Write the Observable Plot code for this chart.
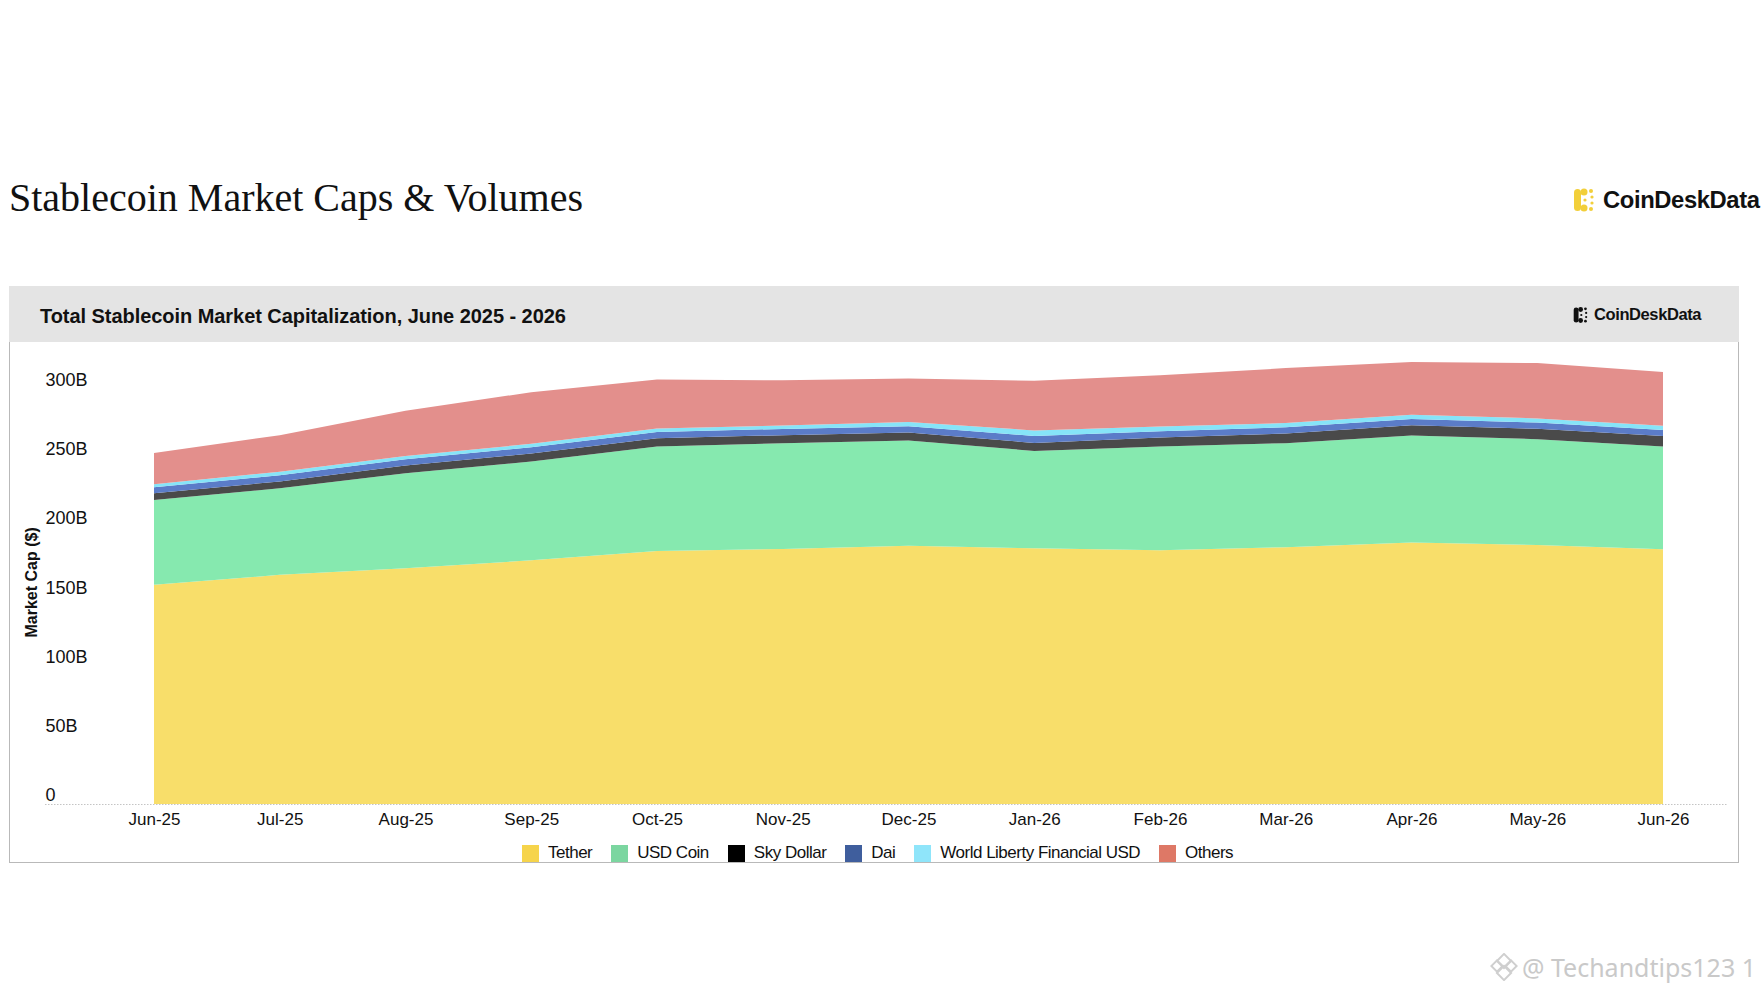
<!DOCTYPE html>
<html><head><meta charset="utf-8">
<script src="https://cdn.jsdelivr.net/npm/d3@7"></script>
<script src="https://cdn.jsdelivr.net/npm/@observablehq/plot@0.6"></script>
<style>
html,body{margin:0;padding:0;background:#fff;}
#page{position:relative;width:1764px;height:992px;overflow:hidden;font-family:"Liberation Sans",Arial,sans-serif;color:#111;}
#title{position:absolute;left:9px;top:178px;font-family:"Liberation Serif",serif;font-size:40px;line-height:40px;color:#111;white-space:nowrap;}
.logo{position:absolute;display:flex;align-items:center;font-weight:bold;white-space:nowrap;color:#111;}
#logo1{left:1573px;top:186px;font-size:23.8px;letter-spacing:-0.4px;}
#logo2{left:1573px;top:305px;font-size:16.5px;letter-spacing:-0.4px;}
#band{position:absolute;left:9px;top:286px;width:1730px;height:56px;background:#e4e4e4;}
#bandTitle{position:absolute;left:31px;top:18px;font-size:20px;line-height:24px;font-weight:bold;letter-spacing:-0.05px;white-space:nowrap;}
#box{position:absolute;left:9px;top:342px;width:1728px;height:520px;border:1px solid #b9b9b9;border-top:none;}
#chart{position:absolute;left:10px;top:343px;}
#legend{position:absolute;left:522px;top:844px;display:flex;align-items:center;font-size:17px;letter-spacing:-0.5px;line-height:18px;color:#111;white-space:nowrap;}
#legend .sw{width:17px;height:17px;margin-right:9px;}
#legend .it{display:flex;align-items:center;margin-right:19px;}
#wm{position:absolute;right:8px;top:951px;font-family:"Noto Sans",sans-serif;font-size:25px;line-height:32px;color:#c9c9c9;display:flex;align-items:center;white-space:nowrap;}
</style></head><body>
<div id="page">
  <div id="title">Stablecoin Market Caps &amp; Volumes</div>
  <div id="logo1" class="logo">
    <svg width="26" height="26" viewBox="0 0 26 26" style="margin-right:4px">
      <g fill="#f2cf3a">
        <rect x="1" y="2" width="7" height="22" rx="3.5"/>
        <circle cx="11" cy="5" r="3.5"/><circle cx="11" cy="21" r="3.5"/>
        <circle cx="18" cy="4" r="2"/><circle cx="18" cy="22" r="2"/>
        <circle cx="12" cy="13" r="1.6"/><circle cx="19" cy="10" r="1.6"/><circle cx="19" cy="16" r="1.6"/>
      </g>
    </svg><span>CoinDeskData</span>
  </div>
  <div id="band"><div id="bandTitle">Total Stablecoin Market Capitalization, June 2025 - 2026</div></div>
  <div id="logo2" class="logo">
    <svg width="18" height="18" viewBox="0 0 26 26" style="margin-right:3px">
      <g fill="#111">
        <rect x="1" y="2" width="7" height="22" rx="3.5"/>
        <circle cx="11" cy="5" r="3.5"/><circle cx="11" cy="21" r="3.5"/>
        <circle cx="18" cy="4" r="2"/><circle cx="18" cy="22" r="2"/>
        <circle cx="12" cy="13" r="1.6"/><circle cx="19" cy="10" r="1.6"/><circle cx="19" cy="16" r="1.6"/>
      </g>
    </svg><span>CoinDeskData</span>
  </div>
  <div id="box"></div>
  <div id="chart"></div>
  <div id="legend"></div>
  <div id="wm">
    <svg width="28" height="28" viewBox="0 0 28 28" style="margin-right:4px">
      <g fill="none" stroke="#cfcfcf" stroke-width="2">
        <rect x="9" y="3" width="10" height="10" transform="rotate(45 14 8)"/>
        <rect x="9" y="15" width="10" height="10" transform="rotate(45 14 20)"/>
        <rect x="3" y="9" width="8" height="8" transform="rotate(45 7 13)"/>
        <rect x="17" y="9" width="8" height="8" transform="rotate(45 21 13)"/>
      </g>
    </svg><span>@ Techandtips123 1</span>
  </div>
</div>
<script>
const months = ["Jun-25","Jul-25","Aug-25","Sep-25","Oct-25","Nov-25","Dec-25","Jan-26","Feb-26","Mar-26","Apr-26","May-26","Jun-26"];
const seriesNames = ["Tether","USD Coin","Sky Dollar","Dai","World Liberty Financial USD","Others"];
// values in billions of USD
const tether    = [158.3,165.5,170.3,176.0,182.8,184.2,186.6,184.7,183.2,185.5,188.8,187.1,184.0];
const usdCoin   = [61.3,62.5,68.6,71.3,75.4,76.4,75.9,70.3,75.0,75.1,77.3,76.4,74.2];
const skyDollar = [4.8,5.0,5.5,5.8,6.0,5.8,5.8,5.8,6.5,7.0,7.5,7.5,7.5];
const dai       = [4.3,4.5,4.5,4.5,4.5,4.5,4.5,5.0,4.5,4.5,4.5,4.5,4.5];
const wlfi      = [2.2,2.5,2.5,2.5,2.5,2.5,3.0,4.0,3.5,3.0,3.0,3.0,3.0];
const others    = [22.6,26.4,32.6,37.3,35.3,32.6,31.5,35.8,37.0,39.7,38.2,40.0,38.8];
const yTicks = [0,50,100,150,200,250,300];

const areaColors   = ["#f8de6a","#86e9af","#4a4a4a","#5b7cc8","#86e4f8","#e38f8c"];
const legendColors = ["#f6d44b","#7bd6a0","#000000","#3f5e9d","#8fe5fa","#de7866"];

const seriesValues = [tether, usdCoin, skyDollar, dai, wlfi, others];
const data = [];
seriesNames.forEach((name, i) => months.forEach((m, j) => data.push({month: m, coin: name, value: seriesValues[i][j]})));

const chart = Plot.plot({
  width: 1728, height: 500,
  marginLeft: 144, marginRight: 75, marginTop: 11, marginBottom: 39,
  x: {type: "point", domain: months, padding: 0, round: false, label: null},
  y: {domain: [0, 325], label: null},
  color: {domain: seriesNames, range: areaColors},
  style: {fontFamily: "Liberation Sans, Arial, sans-serif", background: "transparent", color: "#111", overflow: "visible"},
  marks: [
    Plot.ruleY([0], {stroke: "#c4c4c4", strokeDasharray: "1.5,1.5", insetLeft: -109, insetRight: -64}),
    Plot.areaY(data, {x: "month", y: "value", z: "coin", fill: "coin", order: seriesNames}),
    Plot.axisX({tickSize: 0, tickPadding: 8, fontSize: 17, fill: "#111"}),
    Plot.axisY({ticks: yTicks, tickSize: 0, tickPadding: 0, textAnchor: "start", dx: -109, dy: -9, fontSize: 18, fill: "#111",
      tickFormat: d => d === 0 ? "0" : d + "B"}),
    Plot.text(["Market Cap ($)"], {frameAnchor: "left", dx: -123, dy: 58, rotate: -90, fontWeight: "bold", fontSize: 16, fill: "#111"})
  ]
});
document.getElementById("chart").appendChild(chart);

const legend = document.getElementById("legend");
seriesNames.forEach((name, i) => {
  const it = document.createElement("div");
  it.className = "it";
  const sw = document.createElement("div");
  sw.className = "sw";
  sw.style.background = legendColors[i];
  const t = document.createElement("span");
  t.textContent = name;
  it.appendChild(sw); it.appendChild(t);
  legend.appendChild(it);
});
</script>
</body></html>
